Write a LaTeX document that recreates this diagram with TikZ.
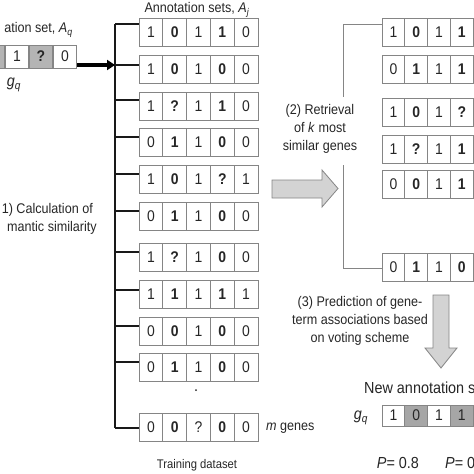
\documentclass[tikz,border=0pt]{standalone}
\usepackage{fontspec}
\setmainfont[FakeStretch=0.9]{Liberation Sans}
\usepackage{xcolor}
\usepackage{tikz}
\usetikzlibrary{arrows.meta}

\definecolor{cellgray}{HTML}{B4B4B4}
\definecolor{newgray}{HTML}{A6A6A6}
\definecolor{linegray}{HTML}{858585}
\definecolor{arrowgray}{HTML}{D3D3D3}

\begin{document}
\begin{tikzpicture}[x=1pt,y=-1pt,
   cell/.style={draw=linegray,line width=0.9pt,minimum width=23.8pt,minimum height=28pt,
      inner sep=0pt,text=black!85,font=\fontsize{15.5}{15}\selectfont},
   bcell/.style={cell,font=\fontsize{15.5}{15}\selectfont\bfseries},
   rcell/.style={cell,minimum width=22.8pt},
   rbcell/.style={bcell,minimum width=22.8pt},
   qcell/.style={cell,minimum height=23pt},
   lbl/.style={inner sep=0pt,text=black!85,font=\fontsize{14}{18}\selectfont,align=center},
   bus/.style={line width=2.4pt,black!90},
   bigarrow/.style={fill=arrowgray,draw=linegray,line width=0.8pt}]
   \useasboundingbox (0,0) rectangle (474,474);

   % Query gene
   \node[qcell,fill=cellgray] (q1) at (-7,56.5) {};
   \node[qcell] (q2) at (17,56.5) {1};
   \node[qcell,fill=cellgray,font=\fontsize{15.5}{15}\selectfont\bfseries] (q3) at (41,56.5) {?};
   \node[qcell] (q4) at (65,56.5) {0};
   \node[lbl,anchor=east] (qtitle) at (73,30) {ation set, \textit{A}\textsubscript{\textit{q}}};
   \node[lbl,font=\fontsize{16}{16}\selectfont] (gq) at (14,85) {\textit{g}\textsubscript{\textit{q}}};
   \node[lbl,anchor=east] (step1a) at (93,210) {1) Calculation of};
   \node[lbl,anchor=east] (step1b) at (97,228) {mantic similarity};

   % Training dataset
   \foreach \y/\a/\b/\c/\d/\e [count=\r] in {32/1/0/1/1/0, 69/1/0/1/0/0, 106/1/?/1/1/0,
         142/0/1/1/0/0, 179/1/0/1/?/1, 216/0/1/1/0/0, 257/1/?/1/0/0, 294/1/1/1/1/1,
         331/0/0/1/0/0, 367/0/1/1/0/0, 427/0/0/?/0/0}{
      \node[cell]  (t\r-1) at (150.9,\y) {\a};
      \node[bcell] (t\r-2) at (174.7,\y) {\b};
      \node[cell]  (t\r-3) at (198.5,\y) {\c};
      \node[bcell] (t\r-4) at (222.3,\y) {\d};
      \node[cell]  (t\r-5) at (246.1,\y) {\e};
   }
   \foreach \r/\b in {1/24, 2/65, 3/100, 4/137, 5/174, 6/211, 7/252, 8/290, 9/326, 10/362, 11/428}{
      \coordinate (b\r) at (115,\b);
      \draw[bus,line width=2pt] (b\r) -- (t\r-1.west |- b\r);
   }
   \draw[bus] (b1) -- (b11);
   \draw[line width=3.5pt,-{Triangle[length=8pt,width=10pt]}] (q4.east |- b2) -- (b2);
   \fill[black!85] (196,390) circle (1pt);
   \node[lbl] (atitle) at (197,10) {Annotation sets, \textit{A}\textsubscript{\textit{j}}};
   \node[lbl,anchor=west] (mgenes) at (266,428) {\textit{m} genes};
   \node[lbl,font=\fontsize{12.5}{14}\selectfont] (train) at (197,465) {Training dataset};

   % Retrieved genes
   \foreach \y/\a/\b/\c/\d [count=\r] in {32/1/0/1/1, 69/0/1/1/1, 112/1/0/1/?,
         149/1/?/1/1, 184/0/0/1/1, 267/0/1/1/0}{
      \node[rcell]  (k\r-1) at (393.4,\y) {\a};
      \node[rbcell] (k\r-2) at (416.2,\y) {\b};
      \node[rcell]  (k\r-3) at (439.0,\y) {\c};
      \node[rbcell] (k\r-4) at (461.8,\y) {\d};
   }
   \coordinate (br1) at (343,24);
   \coordinate (br2) at (343,97);
   \coordinate (br3) at (343,165);
   \coordinate (br4) at (343,268);
   \draw[linegray,line width=0.9pt] (k1-1.west |- br1) -- (br1) -- (br2);
   \draw[linegray,line width=0.9pt] (br3) -- (br4) -- (k6-1.west |- br4);
   \node[lbl] (step2) at (320,129) {(2) Retrieval\\of \textit{k} most\\similar genes};
   \draw[bigarrow] (272,180) -- (322,180) -- (322,170) -- (338,188.5) -- (322,207)
      -- (322,198) -- (272,198) -- cycle;

   % Prediction
   \node[lbl] (step3) at (360,321) {(3) Prediction of gene-\\term associations based\\on voting scheme};
   \draw[bigarrow] (433,295) -- (449,295) -- (449,348) -- (457,348) -- (441,368)
      -- (425,348) -- (433,348) -- cycle;
   \node[lbl,anchor=west,font=\fontsize{16}{16}\selectfont] (ntitle) at (364,388) {New annotation s};
   \node[lbl,font=\fontsize{16}{16}\selectfont] (gq2) at (361,418) {\textit{g}\textsubscript{\textit{q}}};
   \node[rcell,minimum height=21pt] (n1) at (393.4,415.5) {1};
   \node[rcell,minimum height=21pt,fill=newgray] (n2) at (416.2,415.5) {0};
   \node[rcell,minimum height=21pt] (n3) at (439.0,415.5) {1};
   \node[rcell,minimum height=21pt,fill=newgray] (n4) at (461.8,415.5) {1};
   \node[lbl,font=\fontsize{16}{16}\selectfont] (p1) at (398,463) {\textit{P}= 0.8};
   \node[lbl,anchor=west,font=\fontsize{16}{16}\selectfont] (p2) at (445,463) {\textit{P}= 0};
\end{tikzpicture}
\end{document}
